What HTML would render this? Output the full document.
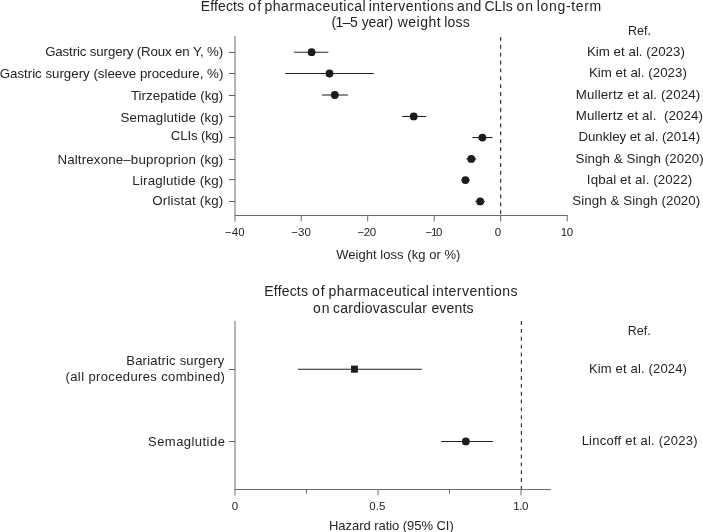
<!DOCTYPE html>
<html><head><meta charset="utf-8"><title>Forest plots</title>
<style>html,body{margin:0;padding:0;background:#fff;}svg{display:block;}</style></head>
<body>
<svg width="703" height="532" viewBox="0 0 703 532">
<rect width="703" height="532" fill="#fff"/>
<g>
<line x1="235" y1="36" x2="235" y2="221.8" stroke="#6b6b6b" stroke-width="1"/>
<line x1="235" y1="215.5" x2="567.6" y2="215.5" stroke="#6b6b6b" stroke-width="1"/>
<line x1="301.20" y1="215.5" x2="301.20" y2="221.5" stroke="#6b6b6b" stroke-width="1"/>
<line x1="367.70" y1="215.5" x2="367.70" y2="221.5" stroke="#6b6b6b" stroke-width="1"/>
<line x1="434.20" y1="215.5" x2="434.20" y2="221.5" stroke="#6b6b6b" stroke-width="1"/>
<line x1="500.70" y1="215.5" x2="500.70" y2="221.5" stroke="#6b6b6b" stroke-width="1"/>
<line x1="567.20" y1="215.5" x2="567.20" y2="221.5" stroke="#6b6b6b" stroke-width="1"/>
<line x1="228.9" y1="52.50" x2="235" y2="52.50" stroke="#646464" stroke-width="1"/>
<line x1="228.9" y1="73.50" x2="235" y2="73.50" stroke="#646464" stroke-width="1"/>
<line x1="228.9" y1="95.50" x2="235" y2="95.50" stroke="#646464" stroke-width="1"/>
<line x1="228.9" y1="116.50" x2="235" y2="116.50" stroke="#646464" stroke-width="1"/>
<line x1="228.9" y1="137.50" x2="235" y2="137.50" stroke="#646464" stroke-width="1"/>
<line x1="228.9" y1="159.50" x2="235" y2="159.50" stroke="#646464" stroke-width="1"/>
<line x1="228.9" y1="179.60" x2="235" y2="179.60" stroke="#646464" stroke-width="1"/>
<line x1="228.9" y1="201.50" x2="235" y2="201.50" stroke="#646464" stroke-width="1"/>
<line x1="500.65" y1="36.9" x2="500.65" y2="215" stroke="#363636" stroke-width="1.2" stroke-dasharray="3.9 3.98"/>
<line x1="294.2" y1="52.20" x2="328.4" y2="52.20" stroke="#231f20" stroke-width="1.05"/>
<circle cx="311.6" cy="52.20" r="3.9" fill="#1e1b1c"/>
<line x1="285.3" y1="73.50" x2="373.9" y2="73.50" stroke="#231f20" stroke-width="1.05"/>
<circle cx="329.5" cy="73.50" r="3.9" fill="#1e1b1c"/>
<line x1="322.0" y1="95.00" x2="347.9" y2="95.00" stroke="#231f20" stroke-width="1.05"/>
<circle cx="334.8" cy="95.00" r="3.9" fill="#1e1b1c"/>
<line x1="402.1" y1="116.45" x2="426.1" y2="116.45" stroke="#231f20" stroke-width="1.05"/>
<circle cx="413.7" cy="116.45" r="3.9" fill="#1e1b1c"/>
<line x1="472.4" y1="137.55" x2="492.5" y2="137.55" stroke="#231f20" stroke-width="1.05"/>
<circle cx="482.4" cy="137.55" r="3.9" fill="#1e1b1c"/>
<line x1="466.3" y1="158.90" x2="476.4" y2="158.90" stroke="#231f20" stroke-width="1.05"/>
<circle cx="471.3" cy="158.90" r="3.9" fill="#1e1b1c"/>
<line x1="461.3" y1="180.05" x2="469.9" y2="180.05" stroke="#231f20" stroke-width="1.05"/>
<circle cx="465.4" cy="180.05" r="3.9" fill="#1e1b1c"/>
<line x1="475.3" y1="201.40" x2="484.9" y2="201.40" stroke="#231f20" stroke-width="1.05"/>
<circle cx="480.2" cy="201.40" r="3.9" fill="#1e1b1c"/>
<line x1="235" y1="321" x2="235" y2="495.6" stroke="#6b6b6b" stroke-width="1"/>
<line x1="235" y1="489.5" x2="551" y2="489.5" stroke="#6b6b6b" stroke-width="1"/>
<line x1="306.50" y1="489.5" x2="306.50" y2="493.5" stroke="#6b6b6b" stroke-width="1"/>
<line x1="378.00" y1="489.5" x2="378.00" y2="495.5" stroke="#6b6b6b" stroke-width="1"/>
<line x1="449.50" y1="489.5" x2="449.50" y2="493.5" stroke="#6b6b6b" stroke-width="1"/>
<line x1="521.00" y1="489.5" x2="521.00" y2="495.5" stroke="#6b6b6b" stroke-width="1"/>
<line x1="228.9" y1="369.5" x2="235" y2="369.5" stroke="#646464" stroke-width="1"/>
<line x1="228.9" y1="441.5" x2="235" y2="441.5" stroke="#646464" stroke-width="1"/>
<line x1="521.4" y1="321.1" x2="521.4" y2="489" stroke="#303030" stroke-width="1.15" stroke-dasharray="3.9 3.95"/>
<line x1="298" y1="369.2" x2="421.9" y2="369.2" stroke="#231f20" stroke-width="1.05"/>
<rect x="351" y="365.6" width="6.9" height="7.1" fill="#1e1b1c"/>
<line x1="441.1" y1="441.4" x2="492.9" y2="441.4" stroke="#231f20" stroke-width="1.05"/>
<circle cx="465.8" cy="441.4" r="3.9" fill="#1e1b1c"/>
</g>
<g font-family="'Liberation Sans', Arial, sans-serif" fill="#242424">
<text x="200.65" y="10.80" font-size="14" letter-spacing="0.150">Effects</text>
<text x="248.30" y="10.80" font-size="14" letter-spacing="1.250">of</text>
<text x="264.60" y="10.80" font-size="14" letter-spacing="0.477">pharmaceutical</text>
<text x="368.70" y="10.80" font-size="14" letter-spacing="0.475">interventions</text>
<text x="457.10" y="10.80" font-size="14" letter-spacing="0.425">and</text>
<text x="484.55" y="10.80" font-size="14" letter-spacing="-0.217">CLIs</text>
<text x="516.60" y="10.80" font-size="14" letter-spacing="0.800">on</text>
<text x="536.70" y="10.80" font-size="14" letter-spacing="0.681">long-term</text>
<text x="331.50" y="27.00" font-size="14" letter-spacing="-0.550">(1–5</text>
<text x="361.65" y="27.00" font-size="14" letter-spacing="-0.112">year)</text>
<text x="397.70" y="27.00" font-size="14" letter-spacing="0.480">weight</text>
<text x="444.30" y="27.00" font-size="14" letter-spacing="0.183">loss</text>
<text x="627.90" y="34.80" font-size="12.5" letter-spacing="0.067">Ref.</text>
<text x="45.15" y="55.90" font-size="13.3" letter-spacing="-0.138">Gastric surgery (Roux en Y, %)</text>
<text x="-0.35" y="78.20" font-size="13.3" letter-spacing="-0.007">Gastric surgery (sleeve procedure, %)</text>
<text x="130.95" y="99.90" font-size="13.3" letter-spacing="0.027">Tirzepatide (kg)</text>
<text x="120.55" y="122.20" font-size="13.3" letter-spacing="0.147">Semaglutide (kg)</text>
<text x="170.75" y="140.40" font-size="13.3" letter-spacing="-0.181">CLIs (kg)</text>
<text x="57.40" y="163.70" font-size="13.3" letter-spacing="0.160">Naltrexone–buproprion (kg)</text>
<text x="132.30" y="184.70" font-size="13.3" letter-spacing="0.197">Liraglutide (kg)</text>
<text x="152.25" y="205.40" font-size="13.3" letter-spacing="0.192">Orlistat (kg)</text>
<text x="586.90" y="55.90" font-size="13.3" letter-spacing="0.028">Kim et al. (2023)</text>
<text x="588.90" y="76.80" font-size="13.3" letter-spacing="0.025">Kim et al. (2023)</text>
<text x="575.80" y="98.70" font-size="13.3" letter-spacing="0.155">Mullertz et al. (2024)</text>
<text x="575.80" y="119.90" font-size="13.3" letter-spacing="0.105" style="white-space:pre">Mullertz et al.  (2024)</text>
<text x="578.40" y="140.80" font-size="13.3" letter-spacing="-0.048">Dunkley et al. (2014)</text>
<text x="575.55" y="162.60" font-size="13.3" letter-spacing="0.092">Singh &amp; Singh (2020)</text>
<text x="586.85" y="183.80" font-size="13.3" letter-spacing="0.103">Iqbal et al. (2022)</text>
<text x="572.25" y="204.80" font-size="13.3" letter-spacing="0.084">Singh &amp; Singh (2020)</text>
<text x="224.90" y="235.80" font-size="11.5" letter-spacing="0.175">−40</text>
<text x="291.30" y="235.80" font-size="11.5">−30</text>
<text x="357.40" y="235.80" font-size="11.5" letter-spacing="-0.350">−20</text>
<text x="425.50" y="235.80" font-size="11.5" letter-spacing="-1.250">−10</text>
<text x="494.85" y="235.80" font-size="11.5">0</text>
<text x="560.70" y="235.80" font-size="11.5" letter-spacing="-0.450">10</text>
<text x="336.15" y="258.90" font-size="13" letter-spacing="0.048">Weight loss (kg or %)</text>
<text x="264.35" y="296.30" font-size="14" letter-spacing="0.175">Effects</text>
<text x="312.00" y="296.30" font-size="14" letter-spacing="0.950">of</text>
<text x="328.60" y="296.30" font-size="14" letter-spacing="0.408">pharmaceutical</text>
<text x="432.30" y="296.30" font-size="14" letter-spacing="0.492">interventions</text>
<text x="313.10" y="312.90" font-size="14" letter-spacing="0.800">on</text>
<text x="333.00" y="312.90" font-size="14" letter-spacing="0.281">cardiovascular</text>
<text x="431.40" y="312.90" font-size="14" letter-spacing="0.160">events</text>
<text x="627.70" y="335.30" font-size="12.5" letter-spacing="0.067">Ref.</text>
<text x="126.30" y="364.90" font-size="13" letter-spacing="0.206">Bariatric surgery</text>
<text x="65.55" y="380.50" font-size="13" letter-spacing="0.377">(all procedures combined)</text>
<text x="148.05" y="446.00" font-size="13" letter-spacing="0.455">Semaglutide</text>
<text x="588.90" y="373.20" font-size="13" letter-spacing="0.166">Kim et al. (2024)</text>
<text x="581.65" y="445.30" font-size="13" letter-spacing="0.243">Lincoff et al. (2023)</text>
<text x="231.65" y="509.60" font-size="11.5">0</text>
<text x="369.30" y="509.60" font-size="11.5" letter-spacing="0.075">0.5</text>
<text x="513.20" y="509.60" font-size="11.5" letter-spacing="-0.425">1.0</text>
<text x="329.00" y="529.90" font-size="13" letter-spacing="-0.050">Hazard ratio (95% CI)</text>
</g>
</svg>
</body></html>
